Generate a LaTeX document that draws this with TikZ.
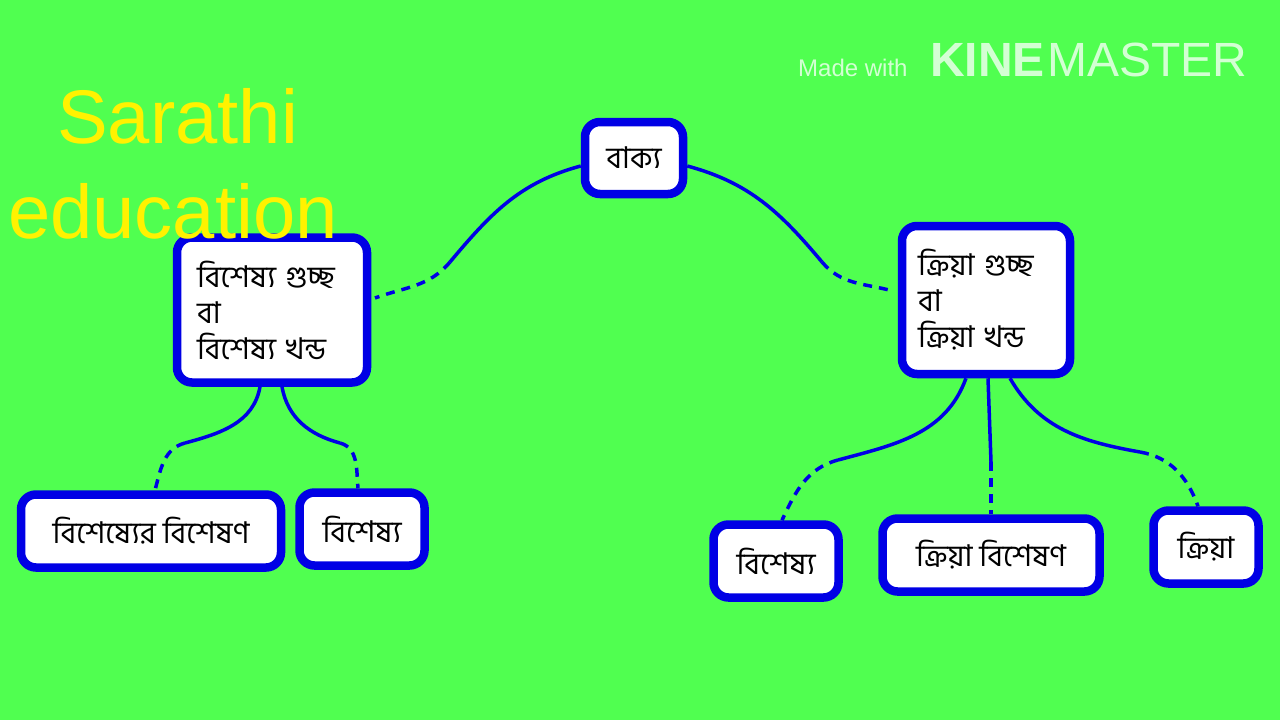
\documentclass[tikz,border=0pt]{standalone}
\usepackage{fontspec}
\setmainfont{Liberation Sans}
\newfontfamily\bn[Script=Bengali]{Hind Siliguri}
\begin{document}
\begin{tikzpicture}[x=1pt,y=-1pt,
  box/.style={draw=blue!90!black, line width=8.5pt, fill=white, rounded corners=15pt, font=\bn\fontsize{30}{36}\selectfont, inner sep=0pt, align=left},
  con/.style={draw=blue!90!black, line width=3.5pt},
  dsh/.style={con, dash pattern=on 9pt off 7pt}]
\fill[fill={rgb,255:red,80;green,255;blue,80}] (0,0) rectangle (1280,720);
\useasboundingbox (0,0) rectangle (1280,720);
% nodes
\node[box, minimum width=98pt, minimum height=72pt] (root) at (634,158) {বাক্য};
\node[box, minimum width=190pt, minimum height=145pt, text width=150pt] (nl) at (272,310) {বিশেষ্য গুচ্ছ\\বা\\বিশেষ্য খন্ড};
\node[box, minimum width=168pt, minimum height=148pt, text width=136pt] (vr) at (986,300) {ক্রিয়া গুচ্ছ\\বা\\ক্রিয়া খন্ড};
\node[box, minimum width=260pt, minimum height=73pt] (c1) at (151,531) {বিশেষ্যের বিশেষণ};
\node[box, minimum width=125pt, minimum height=73pt] (c2) at (362,529) {বিশেষ্য};
\node[box, minimum width=125pt, minimum height=73pt] (c3) at (776,561) {বিশেষ্য};
\node[box, minimum width=217pt, minimum height=73pt] (c4) at (991,555) {ক্রিয়া বিশেষণ};
\node[box, minimum width=105pt, minimum height=73pt] (c5) at (1206,547) {ক্রিয়া};
% break points
\coordinate (b1) at (450,262); \coordinate (e1) at (375,298);
\coordinate (b2) at (822,262); \coordinate (e2) at (893,291);
\coordinate (b3) at (185,443); \coordinate (b4) at (340,443);
\coordinate (b5) at (838,460); \coordinate (b6) at (991,462); \coordinate (b7) at (1140,452);
% connectors
\draw[con] (root.west) ++(0,8) to[out=195,in=50] (b1);
\draw[dsh] (b1) to[out=230,in=20] (e1);
\draw[con] (root.east) ++(0,8) to[out=-15,in=130] (b2);
\draw[dsh] (b2) to[out=310,in=165] (e2);
\draw[con] ([xshift=-12pt]nl.south) to[out=-100,in=15] (b3);
\draw[dsh] (b3) to[out=195,in=75] (c1.north -| 155,0);
\draw[con] ([xshift=10pt]nl.south) to[out=-80,in=165] (b4);
\draw[dsh] (b4) to[out=-15,in=95] (c2.north -| 358,0);
\draw[con] ([xshift=-20pt]vr.south) to[out=-110,in=15] (b5);
\draw[dsh] (b5) to[out=195,in=65] (c3.north -| 782,0);
\draw[con] ([xshift=2pt]vr.south) -- (b6);
\draw[dsh] (b6) -- (c4.north -| 991,0);
\draw[con] ([xshift=24pt]vr.south) to[out=-60,in=170] (b7);
\draw[dsh] (b7) to[out=-10,in=110] (c5.north -| 1198,0);
% texts
\node[text=yellow, font=\fontsize{76}{80}\selectfont, anchor=base west, inner sep=0pt] (t1) at (57,143) {Sarathi};
\node[text=yellow, font=\fontsize{76}{80}\selectfont, anchor=base west, inner sep=0pt] (t2) at (8,238) {education};
\node[text=white, opacity=0.75, font=\fontsize{24}{28}\selectfont, anchor=base west, inner sep=0pt] (w1) at (798,76) {Made with};
\node[text=white, opacity=0.75, font=\bfseries\fontsize{48}{56}\selectfont, anchor=base west, inner sep=0pt] (w2) at (930,76) {KINE};
\node[text=white, opacity=0.75, font=\fontsize{48}{56}\selectfont, anchor=base west, inner sep=0pt] (w3) at (1047,76) {MASTER};
\end{tikzpicture}
\end{document}
